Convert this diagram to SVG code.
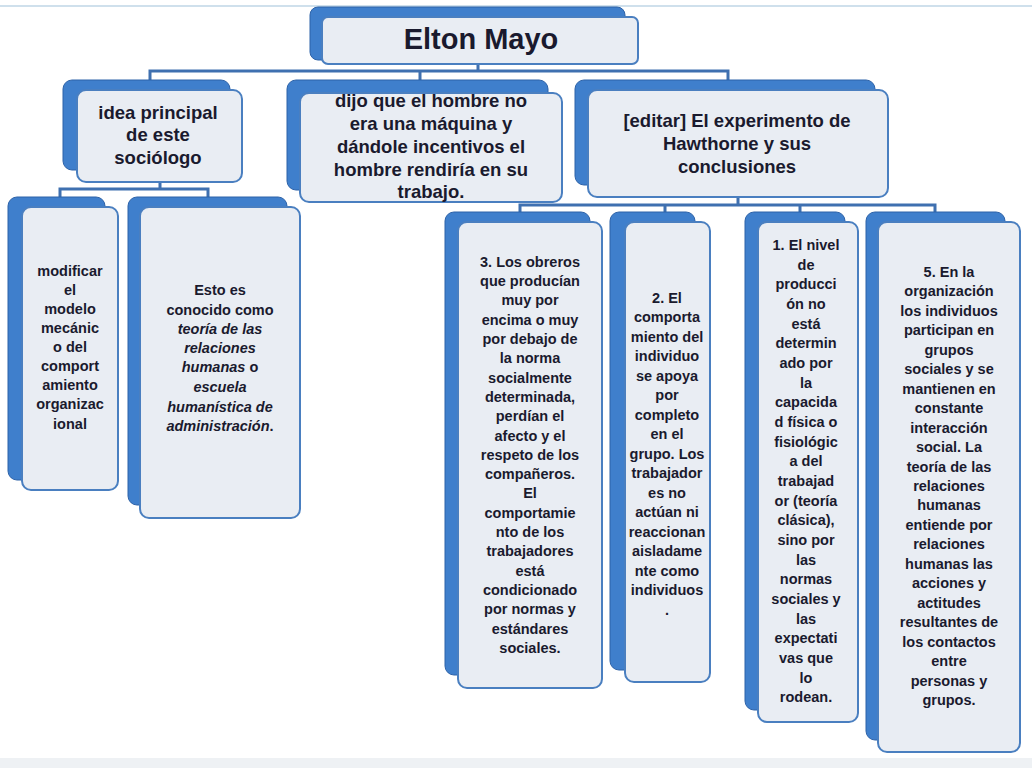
<svg xmlns="http://www.w3.org/2000/svg" width="1032" height="768" viewBox="0 0 1032 768">
<style>
.bk{fill:#3f7fcc;stroke:#2d62a8;stroke-width:1}
.fr{fill:#e9edf3;stroke:#4a7fc0;stroke-width:2}
text{font-family:"Liberation Sans",Arial,sans-serif;font-weight:bold;fill:#1a1a2e;text-anchor:middle}
.s{font-size:14.5px}
.m{font-size:18.5px}
.c{fill:none;stroke:#3f70b0;stroke-width:3}
</style>
<rect x="0" y="0" width="1032" height="768" fill="#fff"/>
<line x1="0" y1="6" x2="1032" y2="6" stroke="#cfe0ec" stroke-width="2"/>
<rect x="0" y="758" width="1032" height="10" fill="#eef1f4"/>
<g id="connectors">
<path class="c" d="M478 64V71M150 80V71H728V80M420 71V80"/>
<path class="c" d="M160 182V189M60 197V189H208V197"/>
<path class="c" d="M738 197V205M520 212V205H935V212M665 205V212M800 205V212"/>
</g>
<g id="root"><rect class="bk" x="310" y="7" width="315" height="53" rx="8"/><rect class="fr" x="322" y="17" width="316" height="47" rx="6"/><text x="481" y="49" style="font-size:29px">Elton Mayo</text></g>
<g id="idea"><rect class="bk" x="63" y="80" width="167" height="90" rx="9"/><rect class="fr" x="77" y="90" width="165" height="92" rx="9"/>
<text class="m" x="158"><tspan x="158" y="119">idea principal</tspan><tspan x="158" y="141">de este</tspan><tspan x="158" y="164">sociólogo</tspan></text></g>
<g id="dijo"><rect class="bk" x="287" y="80" width="261" height="110" rx="9"/><rect class="fr" x="300" y="93" width="262" height="109" rx="9"/>
<text class="m"><tspan x="431" y="107">dijo que el hombre no</tspan><tspan x="431" y="130">era una máquina y</tspan><tspan x="431" y="153">dándole incentivos el</tspan><tspan x="431" y="176">hombre rendiría en su</tspan><tspan x="431" y="198">trabajo.</tspan></text></g>
<g id="hawthorne"><rect class="bk" x="575" y="80" width="300" height="105" rx="9"/><rect class="fr" x="588" y="90" width="300" height="107" rx="9"/>
<text class="m"><tspan x="737" y="127">[editar] El experimento de</tspan><tspan x="737" y="150">Hawthorne y sus</tspan><tspan x="737" y="173">conclusiones</tspan></text></g>
<g id="modificar"><rect class="bk" x="8" y="197" width="97" height="283" rx="9"/><rect class="fr" x="22" y="207" width="96" height="283" rx="9"/>
<text class="s"><tspan x="70" y="276">modificar</tspan><tspan x="70" y="295">el</tspan><tspan x="70" y="314">modelo</tspan><tspan x="70" y="333">mecánic</tspan><tspan x="70" y="352">o del</tspan><tspan x="70" y="371">comport</tspan><tspan x="70" y="390">amiento</tspan><tspan x="70" y="409">organizac</tspan><tspan x="70" y="429">ional</tspan></text></g>
<g id="esto"><rect class="bk" x="128" y="197" width="159" height="308" rx="9"/><rect class="fr" x="140" y="207" width="160" height="311" rx="9"/>
<text class="s"><tspan x="220" y="295">Esto es</tspan><tspan x="220" y="315">conocido como</tspan><tspan x="220" y="334" font-style="italic">teoría de las</tspan><tspan x="220" y="353" font-style="italic">relaciones</tspan><tspan x="220" y="372"><tspan font-style="italic">humanas</tspan> o</tspan><tspan x="220" y="392" font-style="italic">escuela</tspan><tspan x="220" y="412" font-style="italic">humanística de</tspan><tspan x="220" y="431"><tspan font-style="italic">administración</tspan>.</tspan></text></g>
<g id="c3"><rect class="bk" x="445" y="212" width="145" height="463" rx="9"/><rect class="fr" x="458" y="222" width="144" height="466" rx="9"/>
<text class="s"><tspan x="530" y="267">3. Los obreros</tspan><tspan x="530" y="286">que producían</tspan><tspan x="530" y="305">muy por</tspan><tspan x="530" y="325">encima o muy</tspan><tspan x="530" y="344">por debajo de</tspan><tspan x="530" y="363">la norma</tspan><tspan x="530" y="383">socialmente</tspan><tspan x="530" y="402">determinada,</tspan><tspan x="530" y="421">perdían el</tspan><tspan x="530" y="441">afecto y el</tspan><tspan x="530" y="460">respeto de los</tspan><tspan x="530" y="479">compañeros.</tspan><tspan x="530" y="498">El</tspan><tspan x="530" y="518">comportamie</tspan><tspan x="530" y="537">nto de los</tspan><tspan x="530" y="556">trabajadores</tspan><tspan x="530" y="576">está</tspan><tspan x="530" y="595">condicionado</tspan><tspan x="530" y="614">por normas y</tspan><tspan x="530" y="634">estándares</tspan><tspan x="530" y="653">sociales.</tspan></text></g>
<g id="c2"><rect class="bk" x="610" y="212" width="85" height="458" rx="9"/><rect class="fr" x="625" y="222" width="85" height="460" rx="9"/>
<text class="s"><tspan x="667" y="303">2. El</tspan><tspan x="667" y="322">comporta</tspan><tspan x="667" y="342">miento del</tspan><tspan x="667" y="361">individuo</tspan><tspan x="667" y="381">se apoya</tspan><tspan x="667" y="400">por</tspan><tspan x="667" y="420">completo</tspan><tspan x="667" y="439">en el</tspan><tspan x="667" y="459">grupo. Los</tspan><tspan x="667" y="478">trabajador</tspan><tspan x="667" y="498">es no</tspan><tspan x="667" y="517">actúan ni</tspan><tspan x="667" y="537">reaccionan</tspan><tspan x="667" y="556">aisladame</tspan><tspan x="667" y="576">nte como</tspan><tspan x="667" y="595">individuos</tspan><tspan x="667" y="615">.</tspan></text></g>
<g id="c1"><rect class="bk" x="745" y="212" width="100" height="498" rx="9"/><rect class="fr" x="758" y="222" width="100" height="500" rx="9"/>
<text class="s"><tspan x="806" y="250">1. El nivel</tspan><tspan x="806" y="270">de</tspan><tspan x="806" y="289">producci</tspan><tspan x="806" y="309">ón no</tspan><tspan x="806" y="329">está</tspan><tspan x="806" y="348">determin</tspan><tspan x="806" y="368">ado por</tspan><tspan x="806" y="388">la</tspan><tspan x="806" y="407">capacida</tspan><tspan x="806" y="427">d física o</tspan><tspan x="806" y="447">fisiológic</tspan><tspan x="806" y="466">a del</tspan><tspan x="806" y="486">trabajad</tspan><tspan x="806" y="506">or (teoría</tspan><tspan x="806" y="525">clásica),</tspan><tspan x="806" y="545">sino por</tspan><tspan x="806" y="565">las</tspan><tspan x="806" y="584">normas</tspan><tspan x="806" y="604">sociales y</tspan><tspan x="806" y="624">las</tspan><tspan x="806" y="643">expectati</tspan><tspan x="806" y="663">vas que</tspan><tspan x="806" y="683">lo</tspan><tspan x="806" y="702">rodean.</tspan></text></g>
<g id="c5"><rect class="bk" x="866" y="212" width="139" height="528" rx="9"/><rect class="fr" x="878" y="222" width="142" height="530" rx="9"/>
<text class="s"><tspan x="949" y="277">5. En la</tspan><tspan x="949" y="296">organización</tspan><tspan x="949" y="316">los individuos</tspan><tspan x="949" y="335">participan en</tspan><tspan x="949" y="355">grupos</tspan><tspan x="949" y="374">sociales y se</tspan><tspan x="949" y="394">mantienen en</tspan><tspan x="949" y="413">constante</tspan><tspan x="949" y="433">interacción</tspan><tspan x="949" y="452">social. La</tspan><tspan x="949" y="472">teoría de las</tspan><tspan x="949" y="491">relaciones</tspan><tspan x="949" y="510">humanas</tspan><tspan x="949" y="530">entiende por</tspan><tspan x="949" y="549">relaciones</tspan><tspan x="949" y="569">humanas las</tspan><tspan x="949" y="588">acciones y</tspan><tspan x="949" y="608">actitudes</tspan><tspan x="949" y="627">resultantes de</tspan><tspan x="949" y="647">los contactos</tspan><tspan x="949" y="666">entre</tspan><tspan x="949" y="686">personas y</tspan><tspan x="949" y="705">grupos.</tspan></text></g>
</svg>
